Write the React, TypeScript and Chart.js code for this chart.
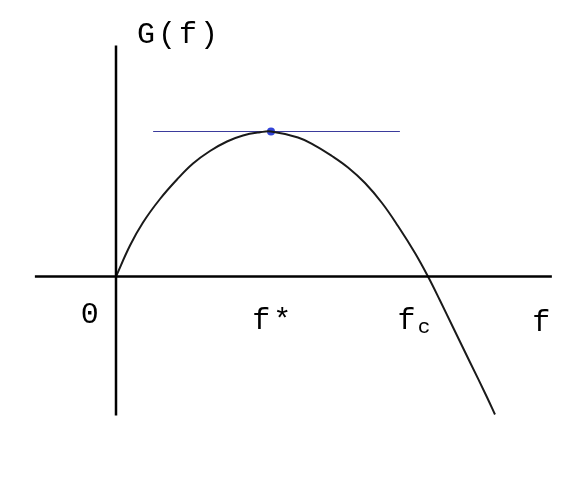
import { useEffect, useRef } from 'react';
import { Chart, registerables } from 'chart.js';

Chart.register(...registerables);

// Curve G(f) (f scaled so fc = 1, G scaled so the peak = 1)
const curveF = [0, 0.0449, 0.0865, 0.141, 0.1955, 0.2468, 0.3013, 0.3558, 0.4071, 0.4615, 0.4968, 0.5833, 0.6378, 0.6923, 0.7436, 0.7981, 0.8526, 0.9038, 0.9583, 1.0, 1.0385, 1.0801, 1.1346, 1.1891, 1.2147];
const curveG = [0, 0.2138, 0.3724, 0.5345, 0.669, 0.7793, 0.8655, 0.931, 0.9724, 0.9945, 1.0, 0.9586, 0.9034, 0.831, 0.7517, 0.6448, 0.5069, 0.3483, 0.1621, 0, -0.1655, -0.3497, -0.591, -0.8324, -0.9517];

// Axis lines
const yAxisF = [0, 0];
const yAxisG = [1.593, -0.959];
const xAxisF = [-0.26, 1.397];
const xAxisG = [0, 0];

// Tangent at the maximum
const tangentF = [0.119, 0.91];
const tangentG = [1, 1];
const peakF = [0.4968];
const peakG = [1];

// Text labels (left edge / baseline in data units)
const labelText = ['G(f)', '0', 'f*', 'f', 'c', 'f'];
const labelF = [0.067, -0.113, 0.437, 0.902, 0.967, 1.334];
const labelG = [1.61, -0.324, -0.361, -0.361, -0.393, -0.375];
const labelSize = [30, 30, 30, 30, 21, 30];

const toPoints = (xs: number[], ys: number[]) => xs.map((x, i) => ({ x, y: ys[i] }));

const labelPlugin = {
    id: 'labels',
    afterDatasetsDraw(chart: Chart) {
        const { ctx, scales } = chart;
        ctx.save();
        ctx.fillStyle = '#000';
        ctx.textAlign = 'left';
        ctx.textBaseline = 'alphabetic';
        labelText.forEach((t, i) => {
            ctx.font = `${labelSize[i]}px "Liberation Mono", monospace`;
            (ctx as any).letterSpacing = labelSize[i] > 25 ? '3px' : '0px';
            ctx.fillText(t, scales.x.getPixelForValue(labelF[i]), scales.y.getPixelForValue(labelG[i]));
        });
        ctx.restore();
    }
};

export default function App() {
    const canvasRef = useRef<HTMLCanvasElement>(null);

    useEffect(() => {
        if (!canvasRef.current) return;

        const chart = new Chart(canvasRef.current, {
            type: 'scatter',
            data: {
                datasets: [
                    {
                        data: toPoints(xAxisF, xAxisG),
                        showLine: true,
                        borderColor: '#000',
                        borderWidth: 2.5,
                        pointRadius: 0
                    },
                    {
                        data: toPoints(yAxisF, yAxisG),
                        showLine: true,
                        borderColor: '#000',
                        borderWidth: 2.5,
                        pointRadius: 0
                    },
                    {
                        data: toPoints(curveF, curveG),
                        showLine: true,
                        borderColor: '#1a1a1a',
                        borderWidth: 2,
                        pointRadius: 0,
                        tension: 0.4
                    },
                    {
                        data: toPoints(tangentF, tangentG),
                        showLine: true,
                        borderColor: '#3b3b9c',
                        borderWidth: 1,
                        pointRadius: 0
                    },
                    {
                        data: toPoints(peakF, peakG),
                        pointRadius: 4,
                        pointBackgroundColor: '#3344d8',
                        pointBorderColor: '#3344d8',
                        pointBorderWidth: 0
                    }
                ]
            },
            options: {
                animation: false,
                responsive: true,
                maintainAspectRatio: false,
                layout: { padding: 0, autoPadding: false },
                scales: {
                    x: { type: 'linear', display: false, min: -116 / 312, max: 450 / 312 },
                    y: { type: 'linear', display: false, min: -207.5 / 145, max: 276.5 / 145 }
                },
                plugins: {
                    legend: { display: false },
                    tooltip: { enabled: false }
                }
            },
            plugins: [labelPlugin]
        });

        return () => chart.destroy();
    }, []);

    return (
        <div style={{ position: 'absolute', left: 0, top: 0, width: 566, height: 484, background: '#fff' }}>
            <canvas ref={canvasRef}></canvas>
        </div>
    );
}
